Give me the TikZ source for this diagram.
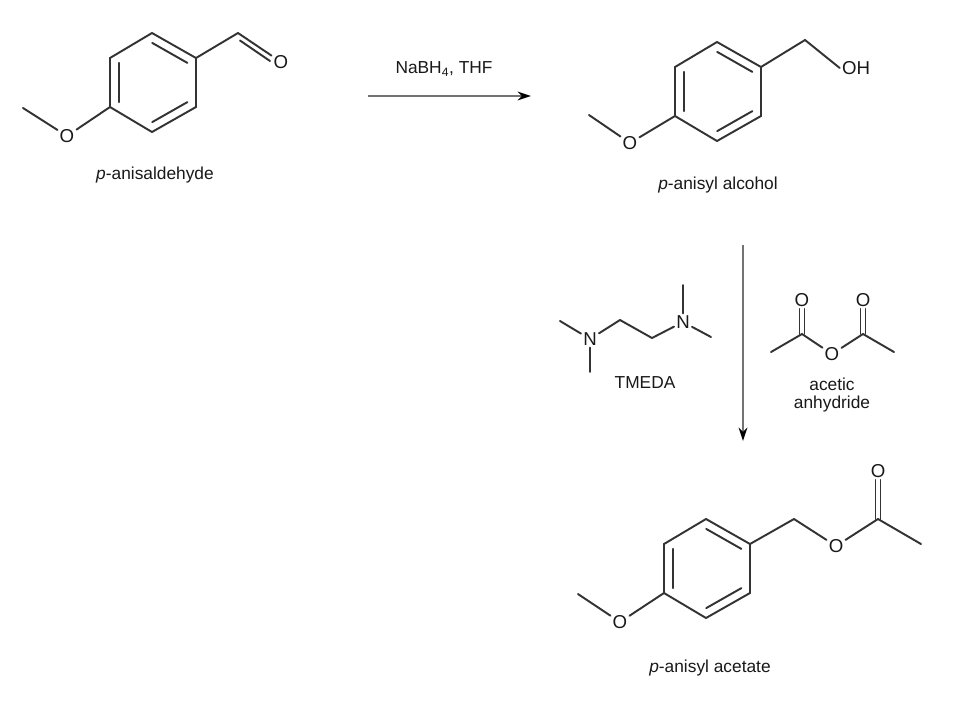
\documentclass[tikz,border=0pt]{standalone}
\usepackage{fontspec}
\setmainfont{Liberation Sans}
\usetikzlibrary{calc,arrows.meta}
\begin{document}
\begin{tikzpicture}[x=0.75pt,y=-0.75pt,
  bond/.style={line width=1.45pt,draw=black!80,line cap=round},
  atom/.style={font=\fontsize{14}{16}\selectfont,inner sep=1.5pt,text=black!90},
  lbl/.style={font=\fontsize{13}{15}\selectfont,text=black!90,align=center},
  rxn/.style={line width=1.5pt,draw=black!55,-{Stealth[length=10pt,width=6.5pt,black]}}]
\useasboundingbox (0,0) rectangle (971,719);
\fill[white] (0,0) rectangle (971,719);
\newcommand{\ring}[3]{%
  \coordinate (#1t) at (#2,#3);
  \coordinate (#1ur) at (#2+44,#3+25);
  \coordinate (#1lr) at (#2+44,#3+74);
  \coordinate (#1b) at (#2,#3+99);
  \coordinate (#1ll) at (#2-42,#3+74);
  \coordinate (#1ul) at (#2-42,#3+25);
  \coordinate (#1c) at (#2+1,#3+49.5);
  \draw[bond] (#1t)--(#1ur)--(#1lr)--(#1b)--(#1ll)--(#1ul)--cycle;
  \draw[bond] ($(#1c)!0.8!(#1t)$)--($(#1c)!0.8!(#1ur)$);
  \draw[bond] ($(#1c)!0.8!(#1lr)$)--($(#1c)!0.8!(#1b)$);
  \draw[bond] ($(#1c)!0.8!(#1ll)$)--($(#1c)!0.8!(#1ul)$);
}
% ---- p-anisaldehyde
\ring{a}{152}{33}
\node[atom] (aO) at (67,136) {O};
\coordinate (aMe) at (23,108);
\coordinate (aC) at (238,33);
\node[atom] (aO2) at (281,62) {O};
\coordinate (aD1) at (240,40.5);
\coordinate (aD2) at (270,61);
\draw[bond] (aMe)--(aO)--(all);
\draw[bond] (aur)--(aC)--(aO2);
\draw[bond] (aD1)--(aD2);
\node[lbl] (aL) at (155,175) {\textit{p}-anisaldehyde};
% ---- p-anisyl alcohol
\ring{b}{717}{42}
\node[atom] (bO) at (630,143) {O};
\coordinate (bMe) at (589,115);
\coordinate (bC) at (805,40);
\node[atom] (bOH) at (856,68) {OH};
\draw[bond] (bMe)--(bO)--(bll);
\draw[bond] (bur)--(bC)--(bOH.west);
\node[lbl] (bL) at (718,185) {\textit{p}-anisyl alcohol};
% ---- p-anisyl acetate
\ring{c}{706}{519}
\node[atom] (cO) at (620,622) {O};
\coordinate (cMe) at (578,594);
\coordinate (cC) at (794,519);
\node[atom] (cO2) at (836,546) {O};
\coordinate (cCc) at (878,519);
\node[atom] (cO3) at (878,471) {O};
\coordinate (cMe2) at (921,544);
\draw[bond] (cMe)--(cO)--(cll);
\draw[bond] (cur)--(cC)--(cO2)--(cCc)--(cMe2);
\draw[bond] ($(cCc)+(-2.5,0)$)--($(cO3.south)+(-2.5,0)$);
\draw[bond] ($(cCc)+(2.5,0)$)--($(cO3.south)+(2.5,0)$);
\node[lbl] (cL) at (710,668) {\textit{p}-anisyl acetate};
% ---- TMEDA
\node[atom] (tN1) at (590,339) {N};
\node[atom] (tN2) at (683,322) {N};
\coordinate (t1) at (560,321);
\coordinate (t2) at (590,372);
\coordinate (t3) at (620,320);
\coordinate (t4) at (652,338);
\coordinate (t5) at (683,285);
\coordinate (t6) at (711,337);
\draw[bond] (t1)--(tN1)--(t2);
\draw[bond] (tN1)--(t3)--(t4)--(tN2)--(t6);
\draw[bond] (tN2)--(t5);
\node[lbl] (tL) at (645,383) {TMEDA};
% ---- acetic anhydride
\coordinate (e1) at (771,352);
\coordinate (e2) at (802,334);
\node[atom] (eO1) at (802,300) {O};
\node[atom] (eO) at (832,354) {O};
\coordinate (e3) at (863,334);
\node[atom] (eO2) at (863,300) {O};
\coordinate (e4) at (894,352);
\draw[bond] (e1)--(e2)--(eO)--(e3)--(e4);
\draw[bond] ($(e2)+(-2.5,0)$)--($(eO1.south)+(-2.5,0)$);
\draw[bond] ($(e2)+(2.5,0)$)--($(eO1.south)+(2.5,0)$);
\draw[bond] ($(e3)+(-2.5,0)$)--($(eO2.south)+(-2.5,0)$);
\draw[bond] ($(e3)+(2.5,0)$)--($(eO2.south)+(2.5,0)$);
\node[lbl] (eL) at (832,395) {acetic\\[-2pt]anhydride};
% ---- arrows
\coordinate (r1s) at (368,96);
\coordinate (r1e) at (531,96);
\draw[rxn] (r1s)--(r1e);
\node[lbl] (r1L) at (444,69) {NaBH\textsubscript{4}, THF};
\coordinate (r2s) at (743,245);
\coordinate (r2e) at (743,441);
\draw[rxn] (r2s)--(r2e);
\end{tikzpicture}
\end{document}
